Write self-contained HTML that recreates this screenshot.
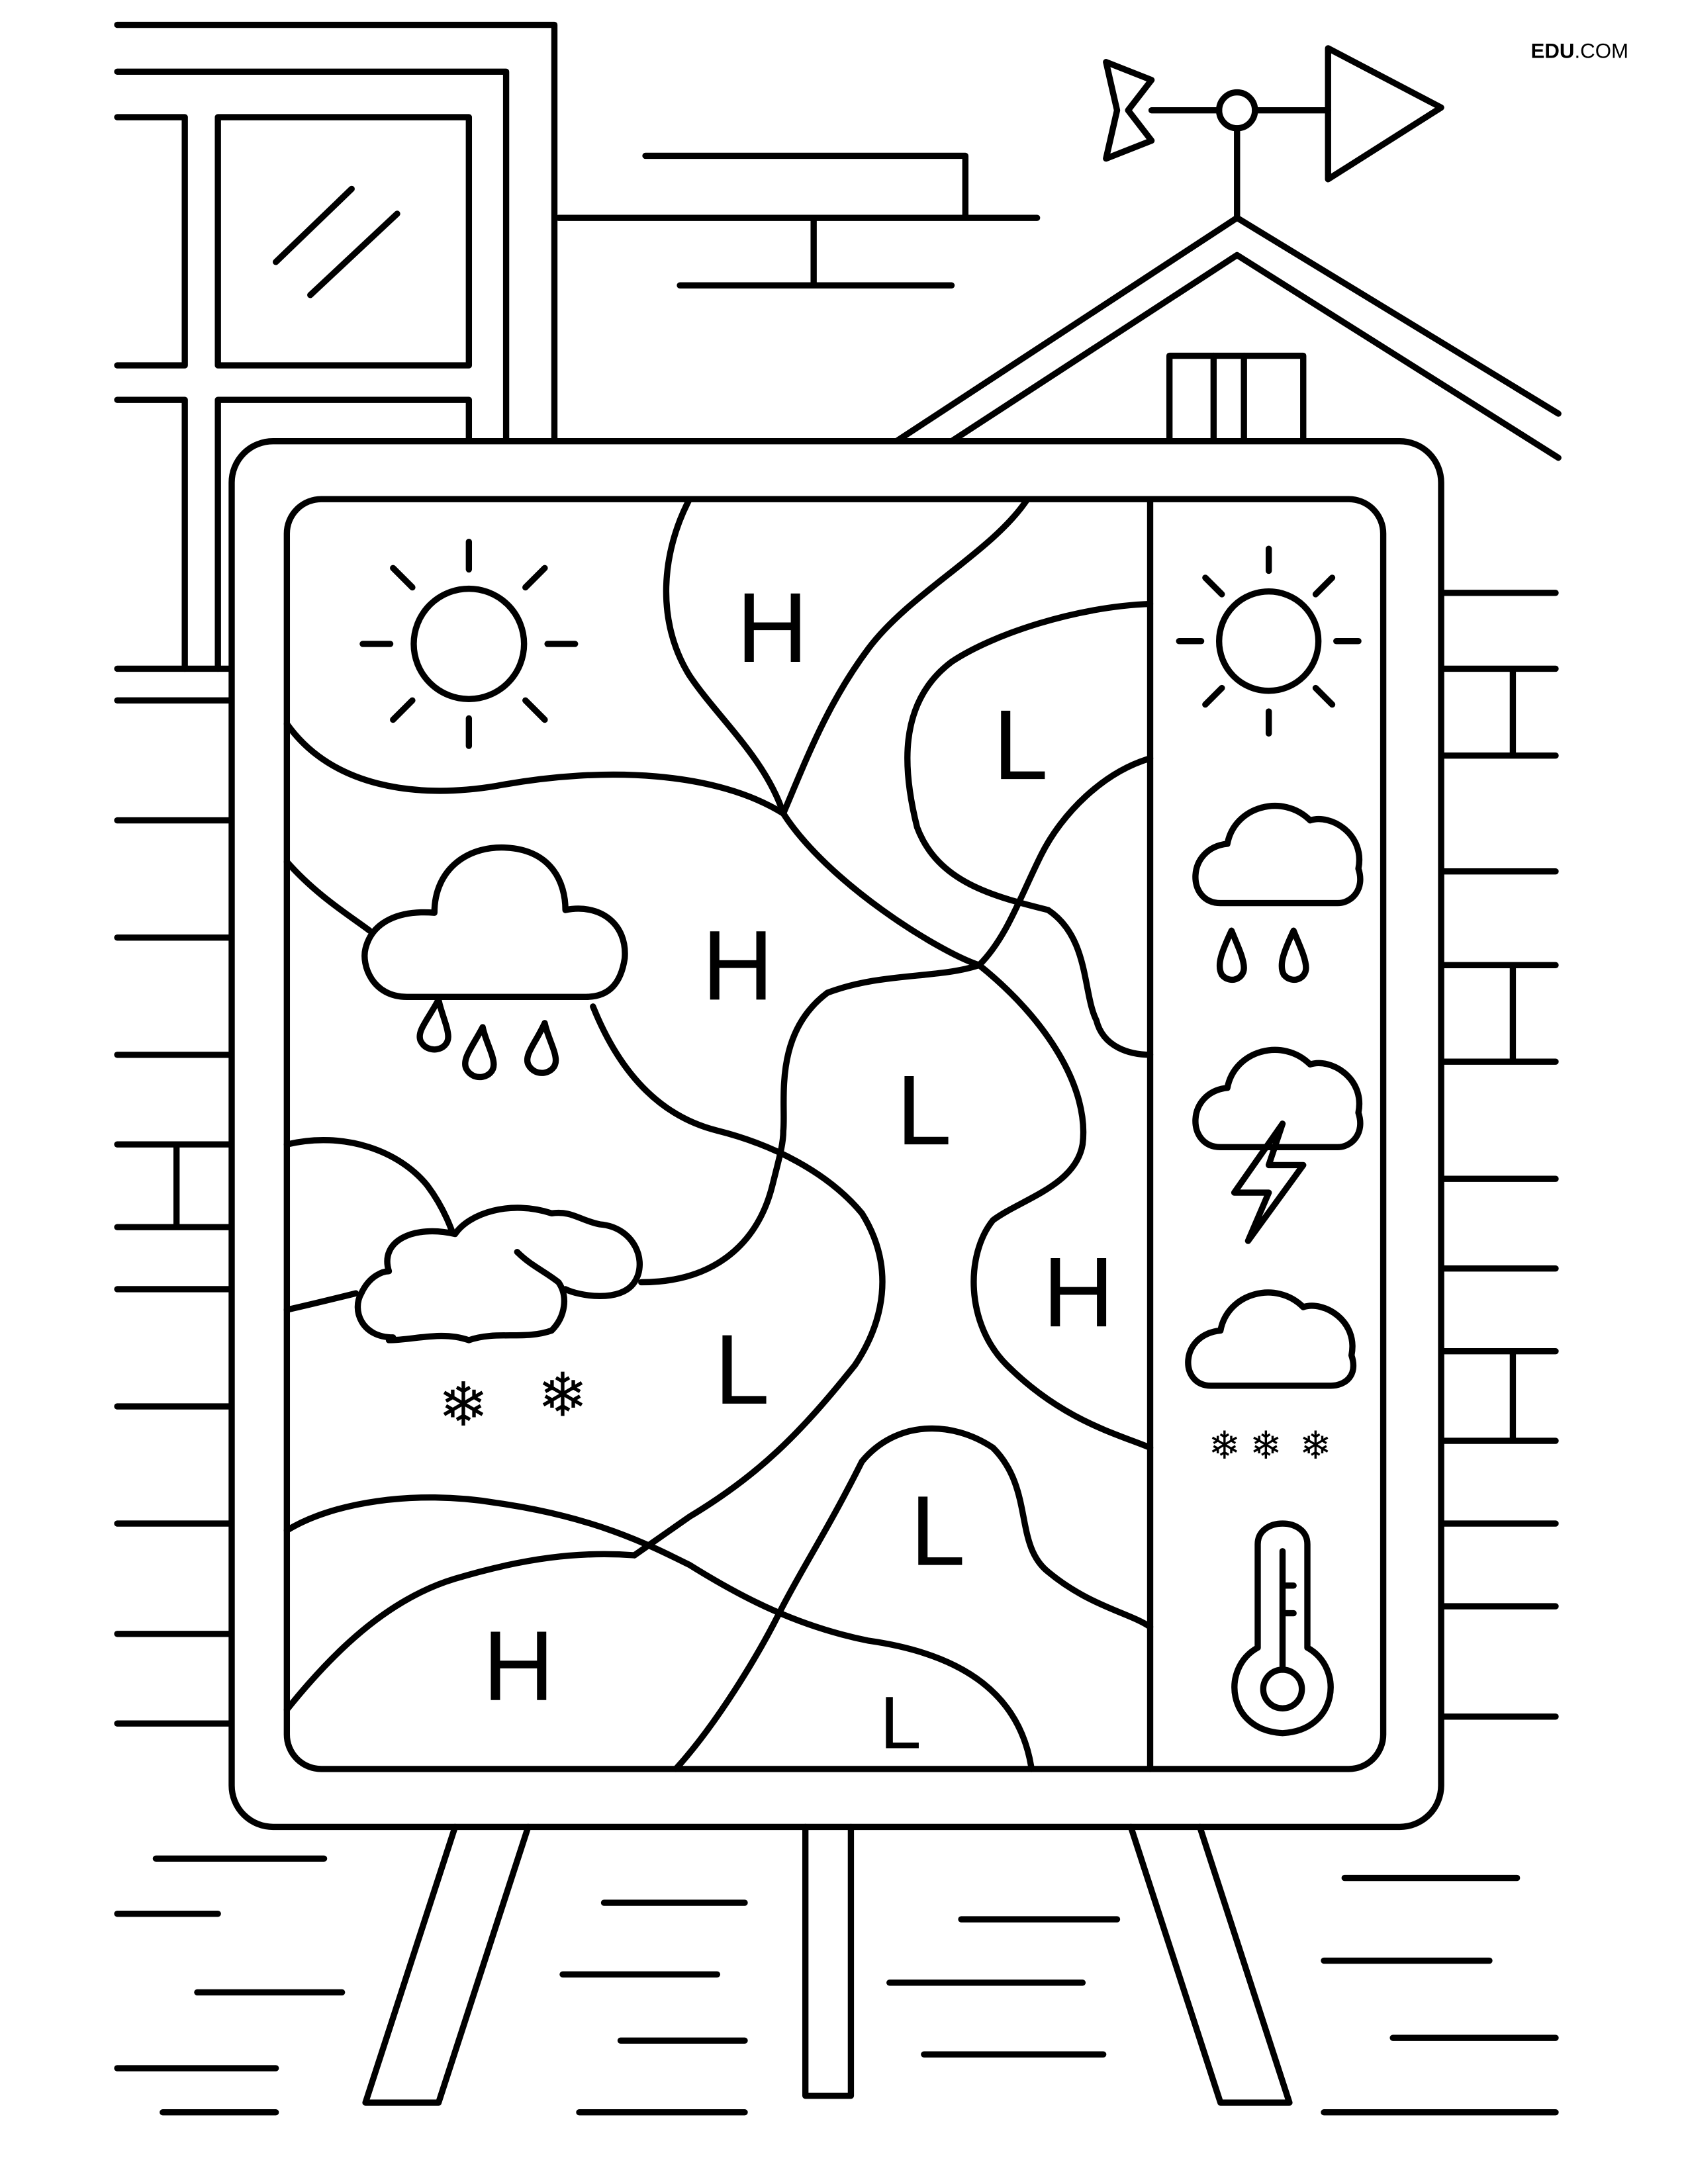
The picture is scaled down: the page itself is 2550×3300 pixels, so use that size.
<!DOCTYPE html>
<html><head><meta charset="utf-8"><style>
html,body{margin:0;padding:0;background:#fff;}
svg{display:block;}
</style></head><body>
<svg width="2550" height="3300" viewBox="0 0 1224 1584" xmlns="http://www.w3.org/2000/svg">
<g fill="none" stroke="#000" stroke-width="4.5" stroke-linecap="round" stroke-linejoin="round">
<path d="M85 18H402V320"/>
<path d="M85 52H367V320"/>
<rect x="158" y="85" width="182" height="180"/>
<path d="M85 85H134V265H85"/>
<path d="M85 290H134V485"/>
<path d="M340 320V290H158V485"/>
<path d="M200 190L255 137M225 214L288 155"/>
<path d="M85 485H170M85 508H170"/>
<path d="M468 113H700V158M405 158H752M590 158V207M493 207H690"/>
<path d="M650 320L897 158L1130 300"/>
<path d="M690 320L897 185L1130 332"/>
<path d="M897 158V93"/>
<circle cx="897" cy="80" r="13"/>
<path d="M835 80H884M910 80H963"/>
<path d="M963 35L1045 78L963 130Z"/>
<path d="M802 45L835 58L818 80L835 102L802 115L810 80Z"/>
<rect x="848" y="258" width="97" height="62"/>
<path d="M880 258V320M902 258V320"/>
<path d="M1045 430H1128M1045 485H1128M1097 485V548M1045 548H1128M1045 632H1128M1045 700H1128M1097 700V770M1045 770H1128M1045 855H1128M1045 920H1128M1045 980H1128M1097 980V1045M1045 1045H1128M1045 1105H1128M1045 1165H1128M1045 1245H1128"/>
<path d="M85 595H170M85 680H170M85 765H170M85 830H170M128 830V890M85 890H170M85 935H170M85 1020H170M85 1105H170M85 1185H170M85 1250H170"/>
<rect x="168" y="320" width="877" height="1005" rx="30" fill="#fff"/>
<rect x="208" y="362" width="795" height="921" rx="25"/>
<path d="M834 362V1283"/>
<path d="M330 1325L265 1525L318 1525L383 1325"/>
<path d="M584 1325V1520H617V1325"/>
<path d="M820 1325L885 1525L935 1525L870 1325"/>
<path d="M113 1348H235M85 1388H158M143 1445H248M85 1500H200M438 1380H540M408 1432H520M450 1480H540M420 1532H540M118 1532H200M697 1392H810M645 1438H785M670 1490H800M975 1362H1100M960 1422H1080M1010 1478H1128M960 1532H1128"/>
<path d="M208 525C240 570 300 580 360 570C440 555 520 560 568 590"/>
<path d="M500 362C480 400 475 450 500 490C520 520 555 550 568 590C600 640 680 690 710 700C760 740 790 790 785 830C780 860 740 870 720 885C700 910 700 960 730 990C770 1030 810 1040 834 1050"/>
<path d="M745 362C720 400 660 430 630 470C600 510 585 550 568 590"/>
<path d="M834 438C780 440 720 460 690 480C650 510 655 560 665 600C680 640 720 650 760 660C790 680 785 720 795 740C800 760 820 765 834 765"/>
<path d="M834 550C800 560 770 590 755 620C740 650 730 680 710 700C680 710 640 705 600 720C560 750 570 800 568 820"/>
<path d="M208 625C230 650 255 665 268 675"/>
<path d="M430 730C450 780 480 810 520 820C560 830 600 850 625 880C650 920 640 960 620 990C580 1040 550 1070 500 1100L460 1128"/>
<path d="M208 830C250 820 290 835 310 860C325 880 330 900 332 905"/>
<path d="M465 930C520 930 550 900 560 860C565 840 568 830 568 820"/>
<path d="M208 950C230 945 250 940 258 938"/>
<path d="M208 1110C240 1090 300 1080 360 1090C430 1100 470 1120 500 1135C540 1160 580 1180 630 1190C700 1200 740 1230 748 1283"/>
<path d="M208 1240C240 1200 280 1160 330 1145C380 1130 420 1125 460 1128"/>
<path d="M490 1283C520 1250 550 1200 565 1170C580 1140 600 1110 625 1060C650 1030 690 1030 720 1050C750 1080 735 1120 760 1140C790 1165 820 1170 834 1180"/>
<circle cx="340" cy="467" r="40"/>
<path d="M340 393V413M340 521V541M263 467H283M397 467H417M285 412L299 426M381 508L395 522M285 522L299 508M381 426L395 412"/>
<circle cx="920" cy="465" r="36"/>
<path d="M920 398V414M920 516V532M855 465H871M969 465H985M874 419L886 431M954 499L966 511M874 511L886 499M954 431L966 419"/>
<path d="M295 723C270 723 262 700 265 688C270 668 290 660 315 662C315 630 340 612 370 615C400 618 410 640 410 660C435 655 455 670 453 695C450 715 440 723 425 723Z" fill="#fff"/>
<path d="M318 725C310 740 302 748 305 755C310 765 325 762 325 752C325 745 320 735 318 725ZM350 745C342 760 335 768 338 775C343 785 358 782 358 772C358 765 352 755 350 745ZM395 742C388 757 380 765 383 772C388 782 403 779 403 769C403 762 397 752 395 742Z"/>
<path d="M285 970C262 970 255 950 262 938C268 925 278 922 282 922C275 900 300 888 330 895C340 880 370 870 400 880C415 878 420 885 435 888C460 890 470 915 460 930C450 945 420 940 410 935" fill="#fff"/>
<path d="M282 972C300 972 320 965 340 972C360 965 380 972 400 965C410 955 412 940 405 930C395 922 385 918 375 908"/>
<path d="M885 655C860 655 860 615 890 612C895 585 930 575 950 595C965 590 990 605 985 630C990 645 980 655 970 655Z"/>
<path d="M893 675C886 690 882 700 886 707C892 714 902 710 902 702C902 695 897 685 893 675ZM938 675C931 690 927 700 931 707C937 714 947 710 947 702C947 695 942 685 938 675Z"/>
<path d="M885 832C860 832 860 792 890 789C895 762 930 752 950 772C965 767 990 782 985 807C990 822 980 832 970 832Z"/>
<path d="M930 815L895 865H920L905 900L945 845H920Z"/>
<path d="M878 1005C855 1005 855 968 885 965C890 938 925 928 945 948C960 943 985 958 980 983C985 998 975 1005 965 1005Z"/>
<path d="M912 1195V1120C912 1100 948 1100 948 1120V1195C975 1210 970 1255 930 1257C890 1255 885 1210 912 1195Z"/>
<circle cx="930" cy="1225" r="14"/>
<path d="M930 1211V1125M930 1150H938M930 1170H938"/>
</g>
<g font-family="'DejaVu Sans', sans-serif" font-size="44" font-weight="bold" text-anchor="middle" fill="#000">
<text x="336" y="1034">❄</text><text x="408" y="1027">❄</text>
<text x="888" y="1058" font-size="28">❄</text><text x="918" y="1058" font-size="28">❄</text><text x="954" y="1058" font-size="28">❄</text>
</g>
<g font-family="'Liberation Sans', sans-serif" font-size="72" text-anchor="middle" fill="#000">
<text x="560" y="480">H</text>
<text x="740" y="565">L</text>
<text x="535" y="725">H</text>
<text x="670" y="830">L</text>
<text x="782" y="962">H</text>
<text x="538" y="1018">L</text>
<text x="680" y="1135">L</text>
<text x="376" y="1233">H</text>
<text x="653" y="1268" font-size="54">L</text>
</g>
<text x="1110" y="42" font-family="'Liberation Sans', sans-serif" font-size="15" fill="#000"><tspan font-weight="bold">EDU</tspan>.COM</text>
</svg>
</body></html>
